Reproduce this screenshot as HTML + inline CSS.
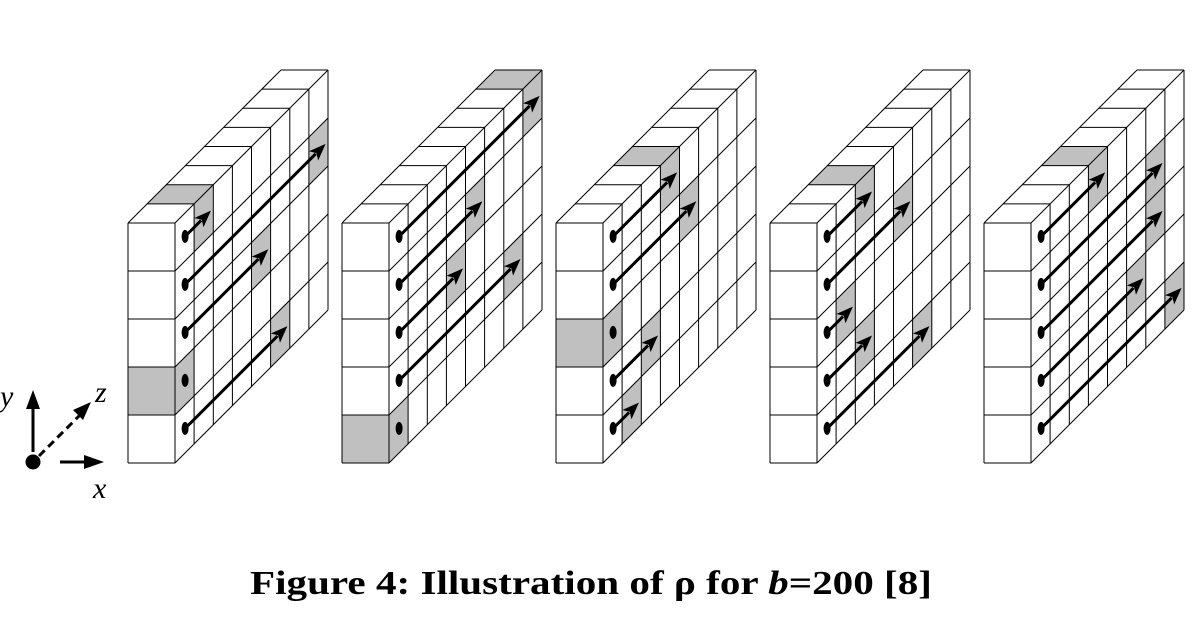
<!DOCTYPE html>
<html><head><meta charset="utf-8"><style>
html,body{margin:0;padding:0;background:#fff;}
svg{display:block;}
.t{font-family:'Liberation Serif','Times New Roman',serif;}
</style></head><body>
<svg id="s" width="1200" height="618" viewBox="0 0 1200 618" xmlns="http://www.w3.org/2000/svg">
<g id="g"></g>
<!-- axes -->
<circle cx="33" cy="462" r="7.5" fill="#000"/>
<line x1="33" y1="452" x2="33" y2="405" stroke="#000" stroke-width="3"/>
<path d="M26,409 L33,390 L40,409 Z" fill="#000"/>
<line x1="60" y1="462" x2="88" y2="462" stroke="#000" stroke-width="3"/>
<path d="M84,455 L104,462 L84,469 Z" fill="#000"/>
<line x1="39" y1="456" x2="80" y2="415" stroke="#000" stroke-width="3" stroke-dasharray="8,5"/>
<path d="M73,410 L91,402 L83,420 Z" fill="#000"/>
<text class="t" x="0" y="406" font-style="italic" font-size="30">y</text>
<text class="t" x="95" y="402" font-style="italic" font-size="30">z</text>
<text class="t" x="93" y="498" font-style="italic" font-size="30">x</text>
<text class="t" x="591" y="594" text-anchor="middle" font-weight="bold" font-size="34" textLength="682" lengthAdjust="spacingAndGlyphs">Figure 4:  Illustration of ρ for <tspan font-style="italic">b</tspan>=200 [8]</text>
</svg>
<script>
(function(){
var g=document.getElementById('g');
var d=19.125,H=48,W=47,TOP=223,N=8,R=5;
var GR='#c0c0c0';
var slabs=[
 {x:128,top:1,front:[3],arr:[[0,1],[1,7],[2,4],[4,5]]},
 {x:342,top:7,front:[4],arr:[[0,7],[1,4],[2,3],[3,6]]},
 {x:556,top:3,front:[2],arr:[[0,3],[1,4],[3,2],[4,1]]},
 {x:770,top:2,front:[],arr:[[0,2],[1,4],[2,1],[3,2],[4,5]]},
 {x:984,top:3,front:[],arr:[[0,3],[1,6],[2,6],[3,5],[4,7]]}
];
var h='';
function poly(pts,fill){h+='<polygon points="'+pts.map(function(p){return p[0].toFixed(1)+','+p[1].toFixed(1)}).join(' ')+'" fill="'+fill+'" stroke="none"/>';}
function ln(x1,y1,x2,y2,w){h+='<line x1="'+x1.toFixed(1)+'" y1="'+y1.toFixed(1)+'" x2="'+x2.toFixed(1)+'" y2="'+y2.toFixed(1)+'" stroke="#000" stroke-width="'+(w||1)+'"/>';}
slabs.forEach(function(s){
 var x0=s.x,x1=s.x+W;
 poly([[x0,TOP],[x1,TOP],[x1,TOP+R*H],[x0,TOP+R*H]],'#fff');
 poly([[x1,TOP],[x1+N*d,TOP-N*d],[x1+N*d,TOP-N*d+R*H],[x1,TOP+R*H]],'#fff');
 poly([[x0,TOP],[x0+N*d,TOP-N*d],[x1+N*d,TOP-N*d],[x1,TOP]],'#fff');
 var side=[];
 s.arr.forEach(function(a){side.push([a[1],a[0]]);});
 s.front.forEach(function(r){side.push([0,r]);
   poly([[x0,TOP+r*H],[x1,TOP+r*H],[x1,TOP+(r+1)*H],[x0,TOP+(r+1)*H]],GR);});
 side.forEach(function(c){var k=c[0],r=c[1];
   var xa=x1+k*d,xb=x1+(k+1)*d,ya=TOP+r*H-k*d,yb=TOP+r*H-(k+1)*d;
   poly([[xa,ya],[xb,yb],[xb,yb+H],[xa,ya+H]],GR);});
 var k=s.top;
 poly([[x0+k*d,TOP-k*d],[x1+k*d,TOP-k*d],[x1+(k+1)*d,TOP-(k+1)*d],[x0+(k+1)*d,TOP-(k+1)*d]],GR);
 ln(x0,TOP,x0,TOP+R*H);ln(x1,TOP,x1,TOP+R*H);
 for(var r=0;r<=R;r++)ln(x0,TOP+r*H,x1,TOP+r*H);
 for(var k2=1;k2<=N;k2++)ln(x1+k2*d,TOP-k2*d,x1+k2*d,TOP-k2*d+R*H);
 for(var r2=0;r2<=R;r2++)ln(x1,TOP+r2*H,x1+N*d,TOP+r2*H-N*d);
 ln(x0,TOP,x0+N*d,TOP-N*d);
 for(var k3=1;k3<=N;k3++)ln(x0+k3*d,TOP-k3*d,x1+k3*d,TOP-k3*d);
 for(var r3=0;r3<R;r3++){
   var cx=x1+0.5*d+0.5, cy=TOP+r3*H+H/2-0.5*d-1;
   h+='<ellipse cx="'+cx.toFixed(1)+'" cy="'+cy.toFixed(1)+'" rx="3.5" ry="6.5" fill="#000"/>';
 }
 s.arr.forEach(function(a){
   var r=a[0],k=a[1];
   var cx=x1+0.5*d+0.5, cy=TOP+r*H+H/2-0.5*d-1;
   var t=(k+0.85)*d-0.5*d;
   var tx=cx+t, ty=cy-t;
   var hl=17, hw=6.5;
   var ux=1/Math.SQRT2, uy=-1/Math.SQRT2;
   var bx=tx-ux*hl, by=ty-uy*hl;
   ln(cx,cy,bx+ux*3,by+uy*3,3);
   var px=-uy,py=ux;
   poly([[tx,ty],[bx+px*hw,by+py*hw],[bx+ux*4,by+uy*4],[bx-px*hw,by-py*hw]],'#000');
 });
});
g.innerHTML=h;
})();
</script>
</body></html>
